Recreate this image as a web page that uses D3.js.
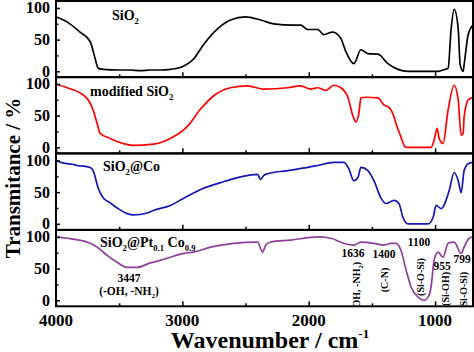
<!DOCTYPE html>
<html><head><meta charset="utf-8">
<script src="https://cdn.jsdelivr.net/npm/d3@7/dist/d3.min.js"></script>
<style>
html,body{margin:0;padding:0;background:#fff;}
svg{display:block;font-family:"Liberation Serif","Times New Roman",serif;font-weight:bold;}
</style></head>
<body><svg id="c" width="474" height="352"></svg>
<script>
// ---- data ----
const sio2Wn = [4000,3913,3810,3730,3690,3667,3627,3500,3413,3330,3254,3170,3095,2992,2913,2833,2722,2619,2500,2381,2278,2119,2063,2008,1929,1881,1810,1746,1706,1643,1587,1532,1452,1373,1294,1214,1100,976,920,897,873,849,817,802,778,770,738,700];
const sio2T  = [86,78,62,47,20,5,3,2,2,1,2,2,3,8,19,42,67,81,86,81,75,73,73,66,66,58,62,52,31,12,34,28,27,12,3,0,0,0,3,5,67,98,67,11,0,11,58,73];

const modWn = [4000,3913,3810,3746,3706,3675,3651,3571,3468,3389,3230,3095,2960,2857,2754,2619,2484,2357,2167,2063,1984,1929,1865,1802,1746,1690,1651,1627,1603,1587,1548,1452,1405,1365,1325,1310,1270,1246,1230,1100,1032,1008,984,968,937,897,849,817,794,778,770,738,700];
const modT  = [100,94,86,75,59,38,22,14,6,3,5,14,33,60,81,94,97,92,94,97,92,94,90,98,94,79,50,40,54,78,79,78,67,63,48,38,16,3,0,0,0,11,30,14,6,59,98,75,19,22,48,75,79];

const coWn = [4000,3960,3913,3870,3833,3780,3730,3706,3667,3627,3571,3516,3437,3389,3278,3230,3095,2992,2833,2698,2563,2405,2381,2357,2341,2167,2008,1929,1802,1722,1683,1643,1611,1587,1532,1484,1429,1389,1325,1286,1254,1214,1100,1056,1016,992,952,889,849,817,794,770,738,700];
const coT  = [100,97,95,94,92,91,89,84,57,41,33,25,16,14,17,21,29,40,56,65,73,78,70,76,78,84,89,92,97,97,87,68,73,89,84,68,41,32,37,32,10,0,0,0,10,29,24,52,81,68,49,84,95,97];

const ptcoWn = [4000,3913,3754,3675,3595,3516,3437,3357,3254,3175,3095,2992,2913,2778,2595,2405,2365,2341,2302,2143,1929,1825,1722,1643,1587,1484,1405,1349,1310,1270,1230,1190,1135,1087,1056,1032,1008,976,937,897,849,794,770,730,700];
const ptcoT  = [100,98,92,84,71,60,52,52,59,63,68,74,76,84,90,92,76,87,92,95,100,98,90,87,92,90,87,90,90,79,48,21,5,0,5,21,63,76,68,90,92,74,84,98,100];

const colors = ["#000000","#ff0000","#1616b4","#8e3f9e"];
const xMajorTicks = [4000,3000,2000,1000];
const xMinorTicks = [3500,2500,1500];
const yMajorTicks = [0,50,100];
const yMinorTicks = [25,75];

const series = [
  {wn:sio2Wn, t:sio2T},
  {wn:modWn, t:modT},
  {wn:coWn, t:coT},
  {wn:ptcoWn, t:ptcoT}
];

// ---- layout ----
const svg = d3.select("#c");
const defs = svg.append("defs");
const left = 56, right = 473;
const panelTops = [1, 77, 153.5, 230];
const panelH = 76.3;
const x = d3.scaleLinear().domain([4000,700]).range([left,right]);

defs.append("clipPath").attr("id","clipAll")
  .append("rect").attr("x",left).attr("y",panelTops[0]).attr("width",right-left).attr("height",panelTops[3]+panelH-panelTops[0]);

series.forEach((s,i)=>{
  const top = panelTops[i];
  const y = d3.scaleLinear().domain([-9.5,111]).range([top+panelH, top]);
  const g = svg.append("g");
  const pts = s.wn.map((w,k)=>[w,s.t[k]]);
  const line = d3.line().x(d=>x(d[0])).y(d=>y(d[1])).curve(d3.curveMonotoneX);
  g.append("path").datum(pts).attr("d",line)
    .attr("fill","none").attr("stroke",colors[i]).attr("stroke-width",1.7)
    .attr("stroke-linejoin","round").attr("clip-path","url(#clipAll)");

  const ya = d3.axisRight(y).tickValues(yMajorTicks).tickSize(4).tickFormat("");
  const gy = g.append("g").attr("transform",`translate(${left},0)`).call(ya);
  gy.select(".domain").remove();
  gy.selectAll("line").attr("stroke","#000").attr("stroke-width",1.5);
  const yam = d3.axisRight(y).tickValues(yMinorTicks).tickSize(2.5).tickFormat("");
  const gym = g.append("g").attr("transform",`translate(${left},0)`).call(yam);
  gym.select(".domain").remove();
  gym.selectAll("line").attr("stroke","#000").attr("stroke-width",1.5);
  g.selectAll("text.yl").data(yMajorTicks).enter().append("text")
    .attr("x",50).attr("y",d=>y(d)).attr("dy","0.34em")
    .attr("text-anchor","end").attr("font-size",16).text(d=>d);

  const bottom = top+panelH;
  const xa = d3.axisTop(x).tickValues(xMajorTicks).tickSize(5).tickFormat("");
  const gx = g.append("g").attr("transform",`translate(0,${bottom})`).call(xa);
  gx.select(".domain").remove();
  gx.selectAll("line").attr("stroke","#000").attr("stroke-width",1.5);
  const xam = d3.axisTop(x).tickValues(xMinorTicks).tickSize(3).tickFormat("");
  const gxm = g.append("g").attr("transform",`translate(0,${bottom})`).call(xam);
  gxm.select(".domain").remove();
  gxm.selectAll("line").attr("stroke","#000").attr("stroke-width",1.5);

  g.append("rect").attr("x",left).attr("y",top).attr("width",right-left).attr("height",panelH)
    .attr("fill","none").attr("stroke","#000").attr("stroke-width",2);
});

// panel labels
function label(xp, yp, parts, size){
  const t = svg.append("text").attr("x",xp).attr("y",yp).attr("font-size",size);
  let shifted = false;
  parts.forEach(p=>{
    const ts = t.append("tspan").text(p.s);
    if(p.sub){
      ts.attr("font-size",size*0.62).attr("dy",shifted?0:4);
      shifted = true;
    } else {
      if(shifted){ ts.attr("dy",-4); shifted=false; }
    }
  });
  return t;
}
label(112,20,[{s:"SiO"},{s:"2",sub:true}],14);
label(90,96,[{s:"modified SiO"},{s:"2",sub:true}],14);
label(103,171,[{s:"SiO"},{s:"2",sub:true},{s:"@Co"}],14);
label(100,247,[{s:"SiO"},{s:"2",sub:true},{s:"@Pt"},{s:"0.1",sub:true},{s:" Co"},{s:"0.9",sub:true}],14);

// annotations
const ann = svg.append("g").attr("font-size",11.5);
ann.append("text").attr("x",129).attr("y",282).attr("text-anchor","middle").text("3447");
const t2 = ann.append("text").attr("x",129).attr("y",295).attr("text-anchor","middle");
t2.append("tspan").text("(-OH, -NH");
t2.append("tspan").attr("font-size",7).attr("dy",3).text("2");
t2.append("tspan").attr("dy",-3).text(")");
ann.append("text").attr("x",353).attr("y",257).attr("text-anchor","middle").text("1636");
ann.append("text").attr("x",384).attr("y",258).attr("text-anchor","middle").text("1400");
ann.append("text").attr("x",419).attr("y",246).attr("text-anchor","middle").text("1100");
ann.append("text").attr("x",442).attr("y",270).attr("text-anchor","middle").text("955");
ann.append("text").attr("x",462).attr("y",263).attr("text-anchor","middle").text("799");

defs.append("clipPath").attr("id","clipP4")
  .append("rect").attr("x",left).attr("y",panelTops[3]).attr("width",right-left).attr("height",panelH-1);
const rot = svg.append("g").attr("font-size",10).attr("clip-path","url(#clipP4)");
function vtext(xp, ytop, anchor){
  return rot.append("text").attr("transform",`translate(${xp},${ytop}) rotate(-90)`)
    .attr("text-anchor",anchor);
}
const r1 = vtext(360,262,"end");
r1.append("tspan").text("(-OH, -NH");
r1.append("tspan").attr("font-size",6.5).attr("dy",3).text("2");
r1.append("tspan").attr("dy",-3).text(")");
vtext(388,280,"middle").text("(C-N)");
vtext(424,277,"middle").text("(Si-O-Si)");
vtext(449,272,"end").text("(Si-OH)");
vtext(467,272,"end").text("(Si-O-Si)");

// x tick labels
const bottomY = panelTops[3]+panelH;
svg.selectAll("text.xl").data(xMajorTicks).enter().append("text")
  .attr("x",d=>x(d)).attr("y",bottomY+20).attr("text-anchor","middle")
  .attr("font-size",17).text(d=>d);

// axis titles
const xt = svg.append("text").attr("x",270).attr("y",348).attr("text-anchor","middle").attr("font-size",24);
xt.append("tspan").text("Wavenumber / cm");
xt.append("tspan").attr("font-size",13).attr("dy",-10).text("-1");

svg.append("text").attr("transform","translate(20,178) rotate(-90)")
  .attr("text-anchor","middle").attr("font-size",21).text("Transmitance / %");
</script>
</body></html>
